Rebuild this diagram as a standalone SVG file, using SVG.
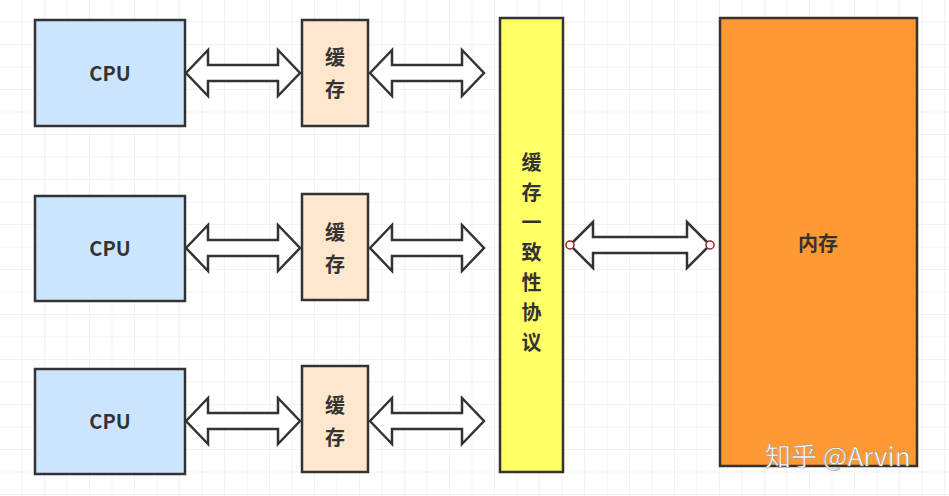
<svg xmlns="http://www.w3.org/2000/svg" width="949" height="496" viewBox="0 0 949 496">
<defs>
<pattern id="grid" width="22.5" height="22.5" patternUnits="userSpaceOnUse">
<path d="M22.5 0V22.5M0 22.5H22.5" stroke="#e6e6e6" stroke-width="1" fill="none"/>
</pattern>
<path id="arr" d="M0 0 L22 -23 L22 -8 L-22 -8 L-22 -23 Z" />
</defs>
<style>
.b{stroke:#333;stroke-width:2.5}
.t{font-family:"Noto Sans CJK SC","Liberation Sans",sans-serif;font-weight:bold;font-size:20px;fill:#333;text-anchor:middle}
.a{fill:#fff;stroke:#333;stroke-width:2.5;stroke-linejoin:miter}
</style>
<rect width="949" height="496" fill="#fff"/>
<rect width="949" height="496" fill="url(#grid)"/>
<g id="connectors">
<path class="a" d="M186 73 L208 50 L208 65 L278 65 L278 50 L300 73 L278 96 L278 81 L208 81 L208 96 Z"/>
<path class="a" d="M370 73 L392 50 L392 65 L462 65 L462 50 L484 73 L462 96 L462 81 L392 81 L392 96 Z"/>
<path class="a" d="M186 248 L208 225 L208 240 L278 240 L278 225 L300 248 L278 271 L278 256 L208 256 L208 271 Z"/>
<path class="a" d="M370 248 L392 225 L392 240 L462 240 L462 225 L484 248 L462 271 L462 256 L392 256 L392 271 Z"/>
<path class="a" d="M186 421 L208 398 L208 413 L278 413 L278 398 L300 421 L278 444 L278 429 L208 429 L208 444 Z"/>
<path class="a" d="M370 421 L392 398 L392 413 L462 413 L462 398 L484 421 L462 444 L462 429 L392 429 L392 444 Z"/>
<path class="a" d="M570 245 L593 222 L593 237 L687 237 L687 222 L710 245 L687 268 L687 253 L593 253 L593 268 Z"/>
<circle cx="570" cy="245" r="4" fill="#fff" stroke="#a0222a" stroke-width="1.5"/>
<circle cx="710" cy="245" r="4" fill="#fff" stroke="#a0222a" stroke-width="1.5"/>
</g>
<g id="cpu1"><rect class="b" x="35" y="20" width="150" height="106" fill="#cce5ff"/><text class="t" x="110" y="81">CPU</text></g>
<g id="cpu2"><rect class="b" x="35" y="196" width="150" height="105" fill="#cce5ff"/><text class="t" x="110" y="256">CPU</text></g>
<g id="cpu3"><rect class="b" x="35" y="369" width="150" height="105" fill="#cce5ff"/><text class="t" x="110" y="429">CPU</text></g>
<g id="cache1"><rect class="b" x="302" y="20" width="66" height="106" fill="#ffe6cc"/><text class="t" x="335" y="65">缓</text><text class="t" x="335" y="97">存</text></g>
<g id="cache2"><rect class="b" x="302" y="194" width="66" height="106" fill="#ffe6cc"/><text class="t" x="335" y="240">缓</text><text class="t" x="335" y="272">存</text></g>
<g id="cache3"><rect class="b" x="302" y="366" width="66" height="106" fill="#ffe6cc"/><text class="t" x="335" y="413">缓</text><text class="t" x="335" y="445">存</text></g>
<g id="protocol"><rect class="b" x="500" y="18" width="63" height="454" fill="#ffff66"/>
<text class="t" x="531.5" y="170">缓</text><text class="t" x="531.5" y="200">存</text><text class="t" x="531.5" y="230">一</text><text class="t" x="531.5" y="260">致</text><text class="t" x="531.5" y="290">性</text><text class="t" x="531.5" y="320">协</text><text class="t" x="531.5" y="350">议</text></g>
<g id="memory"><rect class="b" x="720" y="18" width="197" height="448" fill="#ff9933"/><text class="t" x="818" y="251">内存</text></g>
<text x="765" y="466" font-family="Noto Sans CJK SC,Liberation Sans,sans-serif" font-size="26" fill="#fff" stroke="#999" stroke-width="0.6">知乎 @Arvin</text>
</svg>
